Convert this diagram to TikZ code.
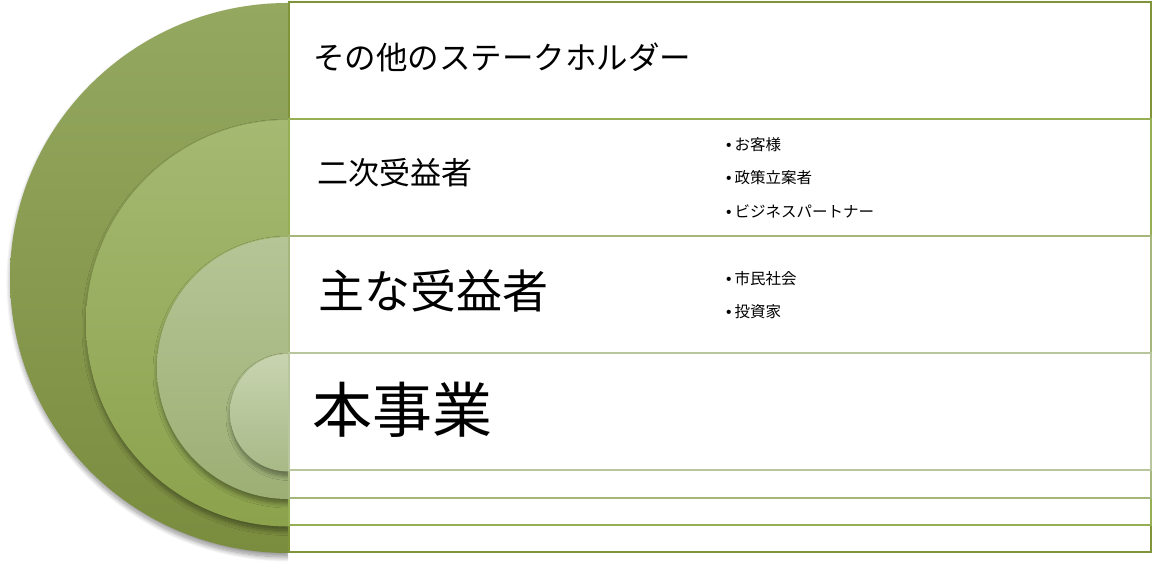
\documentclass[tikz,border=0pt]{standalone}
\usepackage{fontspec}
\newfontfamily\jp{Noto Sans CJK JP}
\newfontfamily\latinf{Liberation Sans}
\usetikzlibrary{shadows.blur}
\definecolor{oat}{HTML}{95A860}
\definecolor{oab}{HTML}{7A8C3E}
\definecolor{obt}{HTML}{A5B972}
\definecolor{obb}{HTML}{8CA24C}
\definecolor{oct}{HTML}{B6C596}
\definecolor{ocb}{HTML}{9DAF74}
\definecolor{odt}{HTML}{C8D4B0}
\definecolor{odb}{HTML}{A8B987}
\definecolor{la}{HTML}{80953A}
\definecolor{lb}{HTML}{96AE54}
\definecolor{lc}{HTML}{A4B67C}
\definecolor{ld}{HTML}{B8C69C}
\begin{document}
\begin{tikzpicture}[x=1pt,y=1pt,
  half/.style={blur shadow={shadow xshift=1pt, shadow yshift=-4pt, shadow blur radius=5pt, shadow blur steps=12, shadow opacity=45}},
  lay/.style={fill=white, line width=2pt, inner sep=0pt, anchor=south west, minimum width=862pt},
  lbl/.style={anchor=west, inner sep=0pt, text=black},
  item/.style={anchor=west, inner sep=0pt, text=black, font=\jp\fontsize{15.5}{18}\selectfont}]
\useasboundingbox (0,0) rectangle (1156,569);
\begin{scope}
\clip (0,0) rectangle (288,569);
\path[half, top color=oat, bottom color=oab] (288,566) arc[start angle=90, end angle=270, x radius=278, y radius=275] -- cycle;
\path[half, top color=obt, bottom color=obb] (288,449) arc[start angle=90, end angle=270, x radius=202, y radius=203.25] -- cycle;
\path[half, top color=oct, bottom color=ocb] (288,332) arc[start angle=90, end angle=270, x radius=131, y radius=131] -- cycle;
\path[half, top color=odt, bottom color=odb] (288,215) arc[start angle=90, end angle=270, x radius=58, y radius=58.75] -- cycle;
\end{scope}
\node[lay, draw=la, minimum height=550pt] (b1) at (288,16) {};
\node[lay, draw=lb, minimum height=406.5pt] (b2) at (288,42.5) {};
\node[lay, draw=lc, minimum height=262pt] (b3) at (288,70) {};
\node[lay, draw=ld, minimum height=117.5pt] (b4) at (288,97.5) {};
\node[lbl, font=\jp\fontsize{31.5}{36}\selectfont] (t1) at (313,512) {その他のステークホルダー};
\node[lbl, font=\jp\fontsize{31}{36}\selectfont] (t2) at (317,396) {二次受益者};
\node[lbl, font=\jp\fontsize{46}{52}\selectfont] (t3) at (318,278) {主な受益者};
\node[lbl, font=\jp\fontsize{60}{68}\selectfont] (t4) at (312,159) {本事業};
\node[item] (i1) at (726,424) {{\latinf •}\hspace{3pt}お客様};
\node[item] (i2) at (726,391) {{\latinf •}\hspace{3pt}政策立案者};
\node[item] (i3) at (726,358) {{\latinf •}\hspace{3pt}ビジネスパートナー};
\node[item] (i4) at (726,290) {{\latinf •}\hspace{3pt}市民社会};
\node[item] (i5) at (726,257) {{\latinf •}\hspace{3pt}投資家};
\end{tikzpicture}
\end{document}
